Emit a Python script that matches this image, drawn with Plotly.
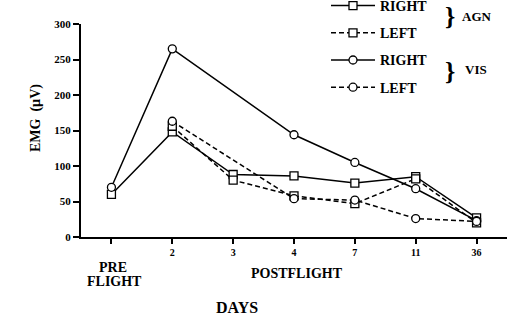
import plotly.graph_objects as go

# ---- data ----
categories = ["PRE", "2", "3", "4", "7", "11", "36"]
tick_labels = ["", "2", "3", "4", "7", "11", "36"]
agn_right = [60, 148, 88, 86, 76, 85, 27]
agn_left = [None, 156, 80, 58, 47, 82, 20]
vis_right = [70, 265, None, 144, 105, 68, 23]
vis_left = [None, 163, None, 54, 52, 26, 22]
y_ticks = [0, 50, 100, 150, 200, 250, 300]

FONT = "Liberation Serif"
W, H = 509, 316
ML, MR, MT, MB = 81, 2, 24, 79
PW, PH = W - ML - MR, H - MT - MB


def px(x):
    return (x - ML) / PW


def py(y):
    return (H - MB - y) / PH


series = [
    ("RIGHT", agn_right, "square", "solid"),
    ("LEFT", agn_left, "square", "5px,3px"),
    ("RIGHT", vis_right, "circle", "solid"),
    ("LEFT", vis_left, "circle", "5px,3px"),
]

fig = go.Figure()
for i, (name, vals, sym, dash) in enumerate(series):
    fig.add_trace(go.Scatter(
        x=categories, y=vals, name=name, mode="lines+markers",
        connectgaps=True, legendgroup=f"g{i}",
        line=dict(color="black", width=1.5, dash=dash),
        marker=dict(symbol=sym, size=8, color="white",
                    line=dict(color="black", width=1.3)),
    ))

fig.update_layout(
    width=W, height=H,
    margin=dict(l=ML, r=MR, t=MT, b=MB, autoexpand=False),
    paper_bgcolor="white", plot_bgcolor="white",
    font=dict(family=FONT, color="black", size=10, weight="bold"),
    showlegend=True,
    legend=dict(x=px(326), y=py(-10), xanchor="left", yanchor="top",
                bgcolor="rgba(0,0,0,0)", tracegroupgap=6,
                font=dict(family=FONT, size=14, weight="bold"),
                itemwidth=44),
    xaxis=dict(type="category", range=[-0.5, 6.5], tickvals=categories,
               ticktext=tick_labels, showline=True, linecolor="black",
               linewidth=2, ticks="outside", ticklen=5, tickwidth=1.5,
               tickcolor="black", showgrid=False, zeroline=False,
               tickfont=dict(size=10, family=FONT, weight="bold")),
    yaxis=dict(range=[0, 300], tickvals=y_ticks, showline=True,
               linecolor="black", linewidth=2, ticks="outside", ticklen=6,
               tickwidth=1.5, tickcolor="black", showgrid=False,
               zeroline=False,
               tickfont=dict(size=11, family=FONT, weight="bold")),
)

ann = [
    ("PRE", 113, 267, 14, 0),
    ("FLIGHT", 114, 281, 14, 0),
    ("POSTFLIGHT", 297, 273, 14, 0),
    ("DAYS", 237, 307, 16, 0),
    ("EMG  (\u00b5V)", 36, 118, 14, -90),
    ("}", 450, 17, 26, 0),
    ("}", 450, 71, 26, 0),
    ("AGN", 477, 17, 13, 0),
    ("VIS", 476, 69, 13, 0),
]
for text, x, y, size, ang in ann:
    fig.add_annotation(text=text, x=px(x), y=py(y), xref="paper",
                       yref="paper", showarrow=False, textangle=ang,
                       xanchor="center", yanchor="middle",
                       font=dict(family=FONT, size=size, weight="bold"))

fig.write_html(
    "out.html",
    config={"displayModeBar": False},
    post_script="document.body.style.margin='0';"
                "document.body.style.overflow='hidden';",
)
